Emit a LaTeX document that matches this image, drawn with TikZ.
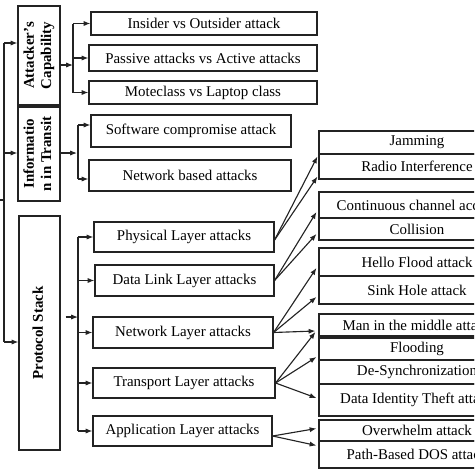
\documentclass[tikz,border=0pt]{standalone}
\usepackage{fontspec}
\setmainfont{Liberation Serif}
\usetikzlibrary{arrows.meta,calc}
\definecolor{boxgray}{RGB}{35,35,35}

\newcommand{\sidelabel}[1]{\rotatebox{90}{\begin{tabular}{@{}c@{}}#1\end{tabular}}}

\tikzset{
	attbox/.style={draw=boxgray, line width=0.8pt, fill=white, inner sep=0pt, align=center, font=\fontsize{10.6}{12.4}\selectfont},
	catbox/.style={attbox, font=\fontsize{10.6}{12.2}\selectfont\bfseries},
	cell/.style={attbox, minimum width=49mm},
	arr/.style={-{Latex[length=1.7mm,width=1.3mm]}, line width=0.8pt, draw=boxgray},
}

\begin{document}
\begin{tikzpicture}[x=0.25mm, y=-0.25mm]

		\useasboundingbox (0,0) rectangle (474,474);
		\clip (0,0) rectangle (474,474);

		% categories
		\node[catbox, minimum width=10.5mm, minimum height=24.75mm] (cap) at (39,55.5) {\sidelabel{Attacker’s\\Capability}};
		\node[catbox, minimum width=10.5mm, minimum height=23.5mm] (info) at (39,154) {\sidelabel{Informatio\\n in Transit}};
		\node[catbox, minimum width=10.25mm, minimum height=58.5mm] (proto) at (39.5,333) {\sidelabel{Protocol Stack}};

		% attacker's capability
		\node[attbox, minimum width=56.5mm, minimum height=5.75mm] (insider) at (204,23.5) {Insider vs Outsider attack};
		\node[attbox, minimum width=57mm, minimum height=6.5mm] (passive) at (203,58) {Passive attacks vs Active attacks};
		\node[attbox, minimum width=57mm, minimum height=5.75mm] (mote) at (203,92.5) {Moteclass vs Laptop class};

		% information in transit
		\node[attbox, minimum width=50mm, minimum height=8mm] (soft) at (191,131) {Software compromise attack};
		\node[attbox, minimum width=50.5mm, minimum height=7.75mm] (netbased) at (190,175.5) {Network based attacks};

		% protocol stack layers
		\node[attbox, minimum width=45mm, minimum height=7.5mm] (phys) at (184,237) {Physical Layer attacks};
		\node[attbox, minimum width=44.75mm, minimum height=7.75mm] (dll) at (184.5,280.5) {Data Link Layer attacks};
		\node[attbox, minimum width=45mm, minimum height=7.75mm] (netl) at (183,332.5) {Network Layer attacks};
		\node[attbox, minimum width=45.5mm, minimum height=7.5mm] (trans) at (184,383) {Transport Layer attacks};
		\node[attbox, minimum width=44.75mm, minimum height=7.5mm] (app) at (182.5,431) {Application Layer attacks};

		% attacks per layer
		\node[cell, minimum height=5.75mm] (jam) at (417,142.5) {Jamming};
		\node[cell, minimum height=6.25mm] (radio) at (417,166.5) {Radio Interference};
		\node[cell, minimum height=6.5mm] (cont) at (417,205) {Continuous channel access};
		\node[cell, minimum height=5.5mm] (coll) at (417,229) {Collision};
		\node[cell, minimum height=7mm] (hello) at (417,262) {Hello Flood attack};
		\node[cell, minimum height=7mm] (sink) at (417,290) {Sink Hole attack};
		\node[cell, minimum height=5.5mm] (man) at (417,325) {Man in the middle attack};
		\node[cell, minimum height=5.5mm] (flood) at (417,349) {Flooding};
		\node[cell, minimum height=6mm] (desync) at (417,372) {De-Synchronization};
		\node[cell, minimum height=8mm] (ident) at (417,400) {Data Identity Theft attack};
		\node[cell, minimum height=5.25mm] (over) at (417,430.5) {Overwhelm attack};
		\node[cell, minimum height=6.75mm] (path) at (417,454.5) {Path-Based DOS attack};

		% main trunk
		\coordinate (root) at (-5,200);
		\coordinate (t1) at (4,43);
		\coordinate (t2) at (4,153);
		\coordinate (t3) at (4,342);
		\draw[boxgray, line width=0.8pt] (t1) -- (t3);
		\draw[boxgray, line width=0.8pt] (root) -- (root -| t1);
		\draw[arr] (t1) -- (t1 -| cap.west);
		\draw[arr] (t2) -- (t2 -| info.west);
		\draw[arr] (t3) -- (t3 -| proto.west);

		% branches of attacker's capability
		\coordinate (cj) at (73,65);
		\draw[arr] (cap.east |- cj) -- (cj);
		\draw[boxgray, line width=0.8pt] (cj |- insider.west) -- (cj |- mote.west);
		\draw[arr] (cj |- insider.west) -- (insider.west);
		\draw[arr] (cj |- passive.west) -- (passive.west);
		\draw[arr] (cj |- mote.west) -- (mote.west);

		% branches of information in transit
		\coordinate (ij) at (77,153);
		\coordinate (ia) at (78,125);
		\coordinate (ib) at (78,179);
		\draw[arr] (info.east |- ij) -- (ij);
		\draw[boxgray, line width=0.8pt] (ia) -- (ib);
		\draw[arr] (ia) -- (ia -| soft.west);
		\draw[arr] (ib) -- (ib -| netbased.west);

		% branches of protocol stack
		\coordinate (pj) at (78,317);
		\draw[arr, shorten <=1.25mm] (proto.east |- pj) -- (pj);
		\draw[boxgray, line width=0.8pt] (pj |- phys.west) -- (pj |- app.west);
		\foreach \lay in {phys,dll,netl,trans,app}
			\draw[arr] (pj |- \lay.west) -- (\lay.west);

		% layers to attacks
		\draw[arr] ($(phys.east)+(0,3)$) -- ($(radio.north west)+(-1,3)$);
		\draw[arr] ($(phys.east)+(0,3)$) -- ($(radio.south west)+(-1,-3)$);
		\draw[arr] (dll.east) -- ($(cont.west)+(-2,7)$);
		\draw[arr] (dll.east) -- ($(coll.west)+(-2,5)$);
		\draw[arr] (netl.east) -- ($(hello.west)+(-2,6)$);
		\draw[arr] (netl.east) -- ($(sink.west)+(-2,7)$);
		\draw[arr] (netl.east) -- ($(man.west)+(-3,6)$);
		\draw[arr] (trans.east) -- ($(man.west)+(-3,7)$);
		\draw[arr] (trans.east) -- ($(flood.west)+(-2,8)$);
		\draw[arr] (trans.east) -- ($(ident.west)+(-2,-2)$);
		\draw[arr] ($(app.east)+(0,5)$) -- ($(over.west)+(-2,-2)$);
		\draw[arr] ($(app.east)+(0,5)$) -- ($(path.west)+(-2,-9)$);

\end{tikzpicture}
\end{document}
